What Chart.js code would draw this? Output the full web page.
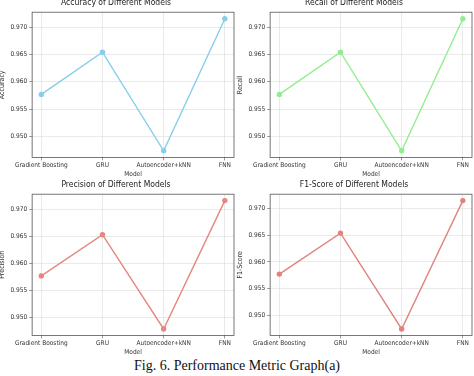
<!DOCTYPE html>
<html>
<head>
<meta charset="utf-8">
<script src="https://cdn.jsdelivr.net/npm/chart.js@4.4.1/dist/chart.umd.min.js"></script>
<style>
  html, body { margin: 0; padding: 0; background: #fff; }
  body { width: 474px; height: 376px; position: relative; overflow: hidden; }
  .box { position: absolute; width: 240px; height: 184px; }
  #caption {
    position: absolute; left: 0; top: 358px; width: 474px; height: 18px;
    background: #fff; text-align: center; z-index: 5;
    font-family: "Liberation Serif", "DejaVu Serif", serif; font-size: 14px; line-height: 16px; color: #111;
  }
</style>
</head>
<body>
<div class="box" style="left:-2px;top:-6px"><canvas id="accChart"></canvas></div>
<div class="box" style="left:236px;top:-6px"><canvas id="recChart"></canvas></div>
<div class="box" style="left:-2px;top:176px;height:180px"><canvas id="preChart"></canvas></div>
<div class="box" style="left:236px;top:176px;height:180px"><canvas id="f1Chart"></canvas></div>
<div id="caption">Fig. 6. Performance Metric Graph(a)</div>
<script>
const models = ["Gradient Boosting", "GRU", "Autoencoder+kNN", "FNN"]
const accuracy = [0.9577, 0.9654, 0.9474, 0.9715]
const recall = [0.9577, 0.9654, 0.9474, 0.9715]
const precision = [0.9577, 0.9653, 0.9479, 0.9716]
const f1Score = [0.9577, 0.9654, 0.9474, 0.9715]
const yTicks = [0.950, 0.955, 0.960, 0.965, 0.970]

const FONT = "'DejaVu Sans Condensed', 'Liberation Sans Narrow', 'DejaVu Sans', sans-serif"

// draws the matplotlib-style box around the plot area
const frame = {
  id: "frame",
  afterDraw(chart) {
    const { ctx, chartArea: a } = chart
    ctx.save()
    ctx.strokeStyle = "#555"
    ctx.lineWidth = 0.8
    ctx.strokeRect(a.left, a.top, a.right - a.left, a.bottom - a.top)
    ctx.restore()
  },
}

const makeChart = (id, title, yLabel, values, color) => {
  const lo = Math.min(...values)
  const hi = Math.max(...values)
  const pad = (hi - lo) * 0.05
  new Chart(document.getElementById(id), {
    type: "line",
    data: {
      datasets: [
        {
          data: values.map((v, i) => ({ x: i, y: v })),
          borderColor: color,
          backgroundColor: color,
          borderWidth: 1.4,
          pointRadius: 2.7,
          pointBorderWidth: 0,
          tension: 0,
        },
      ],
    },
    options: {
      responsive: true,
      maintainAspectRatio: false,
      animation: false,
      layout: { padding: { left: 0, right: 4, top: 0, bottom: 0 } },
      plugins: {
        legend: { display: false },
        tooltip: { enabled: false },
        title: {
          display: true,
          text: title,
          color: "#222",
          font: { family: FONT, size: 8.5, weight: "normal" },
          padding: { top: 4, bottom: 4 },
        },
      },
      scales: {
        x: {
          type: "linear",
          min: -0.15,
          max: 3.15,
          afterBuildTicks: (s) => { s.ticks = models.map((_, i) => ({ value: i })) },
          ticks: {
            callback: (v) => models[v],
            color: "#333",
            font: { family: FONT, size: 6.5 },
            maxRotation: 0,
            autoSkip: false,
            padding: 1,
          },
          grid: { color: "#dcdcdc", tickColor: "#555", tickLength: 3, lineWidth: 0.6 },
          border: { display: false },
          title: { display: true, text: "Model", color: "#333", font: { family: FONT, size: 6.5 }, padding: { top: 0, bottom: 0 } },
        },
        y: {
          type: "linear",
          min: lo - pad,
          max: hi + pad,
          afterBuildTicks: (s) => { s.ticks = yTicks.map((v) => ({ value: v })) },
          ticks: {
            callback: (v) => v.toFixed(3),
            color: "#333",
            font: { family: FONT, size: 6.5 },
            padding: 2,
          },
          grid: { color: "#dcdcdc", tickColor: "#555", tickLength: 3, lineWidth: 0.6 },
          border: { display: false },
          title: { display: true, text: yLabel, color: "#333", font: { family: FONT, size: 7 }, padding: { top: 0, bottom: 2 } },
        },
      },
    },
    plugins: [frame],
  })
}

makeChart("accChart", "Accuracy of Different Models", "Accuracy", accuracy, "#87ceeb")
makeChart("recChart", "Recall of Different Models", "Recall", recall, "#90ee90")
makeChart("preChart", "Precision of Different Models", "Precision", precision, "#e3877f")
makeChart("f1Chart", "F1-Score of Different Models", "F1-Score", f1Score, "#e0837e")
</script>
</body>
</html>
